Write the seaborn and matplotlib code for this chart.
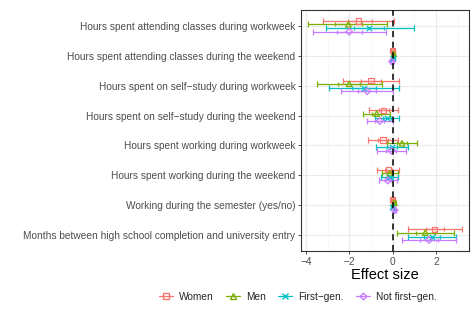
import numpy as np
import matplotlib
matplotlib.use("Agg")
import matplotlib.pyplot as plt
import seaborn as sns
from matplotlib.lines import Line2D

outcomes = [
    "Hours spent attending classes during workweek",
    "Hours spent attending classes during the weekend",
    "Hours spent on self\u2212study during workweek",
    "Hours spent on self\u2212study during the weekend",
    "Hours spent working during workweek",
    "Hours spent working during the weekend",
    "Working during the semester (yes/no)",
    "Months between high school completion and university entry",
]
groups = ["Women", "Men", "First\u2212gen.", "Not first\u2212gen."]

# point estimates per group (one value per outcome)
est_women = [-1.57, 0.00, -1.00, -0.42, -0.45, -0.20, 0.00, 1.95]
est_men = [-2.05, 0.05, -2.01, -0.74, 0.43, -0.13, 0.08, 1.51]
est_fg = [-1.08, 0.02, -1.31, -0.26, -0.03, -0.14, -0.03, 1.82]
est_nfg = [-2.01, -0.03, -1.18, -0.60, -0.06, -0.22, 0.09, 1.68]

# outer intervals
lo95_women = [-3.21, -0.08, -2.31, -1.10, -1.13, -0.71, -0.06, 0.72]
hi95_women = [0.06, 0.08, 0.31, 0.26, 0.23, 0.31, 0.06, 3.19]
lo95_men = [-3.91, -0.03, -3.49, -1.36, -0.25, -0.51, 0.01, 0.18]
hi95_men = [-0.25, 0.13, -0.50, -0.12, 1.11, 0.26, 0.15, 2.84]
lo95_fg = [-3.09, -0.06, -2.93, -0.82, -0.77, -0.54, -0.10, 0.72]
hi95_fg = [0.99, 0.10, 0.28, 0.31, 0.72, 0.26, 0.04, 2.93]
lo95_nfg = [-3.70, -0.11, -2.41, -1.20, -0.74, -0.63, 0.02, 0.42]
hi95_nfg = [-0.31, 0.05, 0.00, 0.00, 0.62, 0.18, 0.16, 2.93]

# inner intervals
lo50_women = [-2.08, -0.03, -1.45, -0.65, -0.68, -0.37, -0.02, 1.53]
hi50_women = [-0.97, 0.03, -0.55, -0.19, -0.22, -0.03, 0.02, 2.37]
lo50_men = [-2.67, 0.02, -2.52, -0.95, 0.20, -0.26, 0.05, 1.06]
hi50_men = [-1.43, 0.08, -1.50, -0.53, 0.66, 0.00, 0.11, 1.96]
lo50_fg = [-1.77, -0.01, -1.86, -0.45, -0.28, -0.28, -0.06, 1.44]
hi50_fg = [-0.39, 0.05, -0.76, -0.07, 0.22, 0.00, 0.00, 2.20]
lo50_nfg = [-2.59, -0.06, -1.59, -0.80, -0.29, -0.36, 0.06, 1.25]
hi50_nfg = [-1.43, 0.00, -0.77, -0.40, 0.17, -0.08, 0.12, 2.11]

x_ticks = [-4, -2, 0, 2]

sns.set_theme(style="whitegrid")
plt.rcParams['font.family'] = ['Liberation Sans', 'DejaVu Sans']

colors = ["#F8766D", "#7CAE00", "#00BFC4", "#C77CFF"]
markers = ["s", "^", "x", "D"]
msizes = [3.8, 4.0, 3.8, 3.4]
offsets = [-0.18, -0.07, 0.07, 0.18]

est = [est_women, est_men, est_fg, est_nfg]
lo95 = [lo95_women, lo95_men, lo95_fg, lo95_nfg]
hi95 = [hi95_women, hi95_men, hi95_fg, hi95_nfg]
lo50 = [lo50_women, lo50_men, lo50_fg, lo50_nfg]
hi50 = [hi50_women, hi50_men, hi50_fg, hi50_nfg]

fig = plt.figure(figsize=(4.74, 3.23), dpi=100)
ax = fig.add_axes([301/474, 1 - 251/323, (469-301)/474, (251-10)/323])
ax.set_facecolor("white")

rows = np.arange(len(outcomes))
for g in range(4):
    y = rows + offsets[g]
    e = np.array(est[g])
    l95 = np.array(lo95[g]); h95 = np.array(hi95[g])
    l50 = np.array(lo50[g]); h50 = np.array(hi50[g])
    ax.errorbar(e, y, xerr=[e - l95, h95 - e], fmt="none", ecolor=colors[g],
                elinewidth=0.9, capsize=2.2, capthick=0.9, zorder=3)
    ax.errorbar(e, y, xerr=[e - l50, h50 - e], fmt="none", ecolor=colors[g],
                elinewidth=0.9, capsize=1.6, capthick=0.9, zorder=3)
    sns.scatterplot(x=e, y=y, ax=ax, marker=markers[g], s=msizes[g]**2,
                    facecolors="none" if markers[g] != "x" else colors[g],
                    edgecolor=colors[g], color=colors[g], linewidth=0.9, zorder=4, legend=False)

ax.axvline(0, color="black", linestyle=(0, (4, 3)), linewidth=1.1, zorder=5)

ax.set_xlim(-4.24, 3.53)
ax.set_ylim(len(outcomes) - 0.5 + 0.05, -0.5 - 0.05)
ax.set_yticks(rows)
ax.set_yticklabels(outcomes)
ax.set_xticks(x_ticks)
ax.set_xticklabels([f"\u2212{abs(t)}" if t < 0 else str(t) for t in x_ticks])
ax.set_xticks([-3, -1, 1, 3], minor=True)
ax.grid(True, which="major", color="#EBEBEB", linewidth=0.8)
ax.grid(True, which="minor", axis="x", color="#F5F5F5", linewidth=0.5)
ax.tick_params(axis="both", which="major", labelsize=7.3, labelcolor="#4D4D4D",
               length=2.5, width=0.6, color="#333333", pad=1.5, left=True, bottom=True)
ax.tick_params(axis="both", which="minor", length=0)
for s in ax.spines.values():
    s.set_edgecolor("#333333")
    s.set_linewidth(0.8)
ax.set_xlabel("Effect size", fontsize=10.5, color="black", labelpad=1.0)
ax.set_ylabel("")

handles = [Line2D([0], [0], color=colors[g], marker=markers[g], markersize=msizes[g],
                  markerfacecolor="none" if markers[g] != "x" else colors[g],
                  linewidth=0.9) for g in range(4)]
fig.legend(handles, groups, loc="center", bbox_to_anchor=(298/474, 1 - 297/323),
           ncol=4, frameon=False, fontsize=7.3, handlelength=1.4, handletextpad=0.6,
           columnspacing=1.2)

fig.savefig("out.png", dpi=100)
